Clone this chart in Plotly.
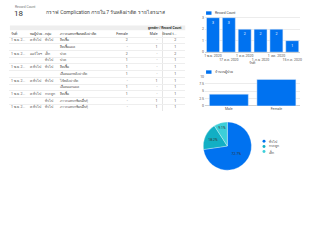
import plotly.graph_objects as go

W, H = 320, 240
def px(x): return x / W
def py(y): return 1 - y / H

# ---------------- data ----------------
scorecard_label = "Record Count"
scorecard_value = "18"
title_text = "กราฟ Complication ภายใน 7 วันหลังผ่าตัด รายไตรมาส"

tbl_headers = ["วันที่", "หอผู้ป่วย ...", "กลุ่ม", "ภาวะแทรกซ้อนหลังผ่าตัด", "Female", "Male", "Grand t..."]
tbl_date = ["1 พ.ย. 2...", "", "1 พ.ย. 2...", "", "1 พ.ย. 2...", "", "1 พ.ย. 2...", "", "1 พ.ย. 2...", "", "1 พ.ย. 2..."]
tbl_ward = ["ศ.ทั่วไป", "", "ออร์โธฯ", "", "ศ.ทั่วไป", "", "ศ.ทั่วไป", "", "ศ.ทั่วไป", "", "ศ.ทั่วไป"]
tbl_group = ["ทั่วไป", "", "เด็ก", "ทั่วไป", "ทั่วไป", "", "ทั่วไป", "", "กระดูก", "ทั่วไป", "ทั่วไป"]
tbl_comp = ["ติดเชื้อ", "ติดเชื้อแผล", "ปวด", "ปวด", "ติดเชื้อ", "เลือดออกหลังผ่าตัด", "ไข้หลังผ่าตัด",
            "เลือดออกแผล", "ติดเชื้อ", "ภาวะแทรกซ้อนอื่นๆ", "ภาวะแทรกซ้อนอื่นๆ"]
tbl_female = ["2", "-", "2", "1", "1", "1", "-", "1", "1", "-", "-"]
tbl_male = ["-", "1", "-", "-", "-", "-", "1", "-", "-", "1", "1"]
tbl_total = ["2", "1", "2", "1", "1", "1", "1", "1", "1", "1", "1"]

date_cats = ["1 พ.ย. 2020", "17 ต.ค. 2020", "1 ต.ค. 2020", "1 ก.ย. 2020", "1 ส.ค. 2020", "15 ก.ค. 2020"]
date_counts = [3, 3, 2, 2, 2, 1]
date_axis_title = "วันที่"

gender_cats = ["Male", "Female"]
gender_vals = [4, 9]

pie_labels = ["ทั่วไป", "กระดูก", "เด็ก"]
pie_vals = [8, 2, 1]

BLUE = "#0072f0"
PIE_COLORS = ["#0072f0", "#12afc4", "#3ccfd9"]
FONT = "Roboto, Noto Sans, sans-serif"
TF = 3.5  # tiny font

fig = go.Figure()

# ---------------- table (text on its own hidden axes) ----------------
columns = [tbl_date, tbl_ward, tbl_group, tbl_comp, tbl_female, tbl_male, tbl_total]
col_anchor = [2, 21, 36, 52, 120, 150, 169]          # layout: x anchor within table axis (0..178)
col_pos = ["middle right"] * 4 + ["middle left"] * 3  # left-aligned text / right-aligned numbers
n_rows = len(tbl_date)
for ci, col in enumerate(columns):
    fig.add_trace(go.Scatter(
        x=[col_anchor[ci]] * (n_rows + 1), y=list(range(n_rows + 1)),
        text=[tbl_headers[ci]] + col, mode="text", textposition=col_pos[ci],
        textfont=dict(size=TF, color=["#333"] + ["#555"] * n_rows, family=FONT),
        xaxis="x3", yaxis="y3", showlegend=False, hoverinfo="skip", cliponaxis=False,
    ))

# ---------------- bar chart 1 ----------------
ticktext1 = [c if i % 2 == 0 else "<br>" + c for i, c in enumerate(date_cats)]
fig.add_trace(go.Bar(
    x=date_cats, y=date_counts, marker_color=BLUE, xaxis="x", yaxis="y",
    text=date_counts, textposition="inside", insidetextanchor="end",
    textfont=dict(size=3.5, color="white"), showlegend=False, name="Record Count",
))

# ---------------- bar chart 2 ----------------
fig.add_trace(go.Bar(
    x=gender_cats, y=gender_vals, marker_color=BLUE, xaxis="x2", yaxis="y2",
    showlegend=False, name="จำนวนผู้ป่วย",
))

# ---------------- pie ----------------
fig.add_trace(go.Pie(
    labels=pie_labels, values=pie_vals, sort=False, direction="clockwise", rotation=0,
    marker=dict(colors=PIE_COLORS, line=dict(color="white", width=0.3)),
    texttemplate="%{percent:.1%}", textposition="inside",
    insidetextorientation="horizontal",
    textfont=dict(size=3.5, color="#333"),
    domain=dict(x=[px(204), px(253)], y=[py(171), py(122)]),
    showlegend=False,
))

axis_font = dict(size=TF, color="#555", family=FONT)
fig.update_layout(
    width=W, height=H, margin=dict(l=0, r=0, t=0, b=0),
    paper_bgcolor="white", plot_bgcolor="white",
    font=dict(family=FONT),
    bargap=0.18,
    xaxis=dict(domain=[px(206), px(302)], anchor="y", tickvals=date_cats, ticktext=ticktext1,
               tickfont=axis_font, ticklen=0, tickangle=0, showgrid=False, showline=False),
    yaxis=dict(domain=[py(51), py(14.8)], anchor="x", range=[0, 3.1], tickvals=[0, 1, 2, 3],
               tickfont=axis_font, gridcolor="#ececec", gridwidth=0.5, zeroline=True,
               zerolinecolor="#d0d0d0", zerolinewidth=0.5, ticklen=0),
    xaxis2=dict(domain=[px(206), px(302)], anchor="y2", tickfont=axis_font, ticklen=0,
                tickangle=0, showgrid=False),
    yaxis2=dict(domain=[py(105.7), py(75.7)], anchor="x2", range=[0, 10],
                tickvals=[0, 2.5, 5, 7.5, 10], ticktext=["0", "2.5", "5", "7.5", "10"],
                tickfont=axis_font, gridcolor="#ececec", gridwidth=0.5, zeroline=True,
                zerolinecolor="#d0d0d0", zerolinewidth=0.5, ticklen=0),
    xaxis3=dict(domain=[px(8), px(186)], anchor="y3", range=[0, 178], showgrid=True,
                tickvals=[155], gridcolor="#e6e6e6", gridwidth=0.5,
                showticklabels=False, zeroline=False, fixedrange=True),
    yaxis3=dict(domain=[py(110.6), py(29)], anchor="x3", range=[n_rows + 0.5, -0.5],
                tickvals=[i + 0.5 for i in range(n_rows)], showgrid=True,
                gridcolor="#eeeeee", gridwidth=0.5, showticklabels=False,
                zeroline=False, fixedrange=True),
)

# date axis title (placed closer to the labels than Plotly's minimum standoff)
fig.add_annotation(xref="paper", yref="paper", x=px(254), y=py(62), xanchor="center", yanchor="middle",
                   text=date_axis_title, showarrow=False, font=dict(size=TF, color="#555", family=FONT))

# gray pivot header bar
fig.add_shape(type="rect", xref="paper", yref="paper", x0=px(9), x1=px(186), y0=py(28.8), y1=py(24),
              fillcolor="#eeeeee", line=dict(width=0), layer="below")
fig.add_annotation(xref="paper", yref="paper", x=px(185), y=py(26.4), xanchor="right", yanchor="middle",
                   text="<b>gender / Record Count</b>", showarrow=False,
                   font=dict(size=3.3, color="#333", family=FONT))

# scorecard
fig.add_annotation(xref="paper", yref="paper", x=px(12), y=py(5.5), xanchor="left", yanchor="middle",
                   text=scorecard_label, showarrow=False, font=dict(size=3.4, color="#777", family=FONT))
fig.add_annotation(xref="paper", yref="paper", x=px(11.5), y=py(11.5), xanchor="left", yanchor="middle",
                   text=scorecard_value, showarrow=False, font=dict(size=8, color="#333", family=FONT))

# title
fig.add_annotation(xref="paper", yref="paper", x=px(43), y=py(10.5), xanchor="left", yanchor="middle",
                   text=title_text, showarrow=False, font=dict(size=5, color="#444", family=FONT))

# bar legends (small swatch + text)
for ytop, label in [(9.5, "Record Count"), (69.5, "จำนวนผู้ป่วย")]:
    fig.add_shape(type="rect", xref="paper", yref="paper", x0=px(207), x1=px(212.5),
                  y0=py(ytop + 3.5), y1=py(ytop), fillcolor=BLUE, line=dict(width=0))
    fig.add_annotation(xref="paper", yref="paper", x=px(214), y=py(ytop + 1.75), xanchor="left",
                       yanchor="middle", text=label, showarrow=False,
                       font=dict(size=3.4, color="#444", family=FONT))

# pie legend (small dots + text)
for i, (lab, col) in enumerate(zip(pie_labels, PIE_COLORS)):
    yc = 141.7 + 5.2 * i
    fig.add_shape(type="circle", xref="paper", yref="paper", x0=px(264), x1=px(267),
                  y0=py(yc + 1.5), y1=py(yc - 1.5), fillcolor=col, line=dict(width=0))
    fig.add_annotation(xref="paper", yref="paper", x=px(268.5), y=py(yc), xanchor="left",
                       yanchor="middle", text=lab, showarrow=False,
                       font=dict(size=3.4, color="#444", family=FONT))

fig.write_html("out.html")
